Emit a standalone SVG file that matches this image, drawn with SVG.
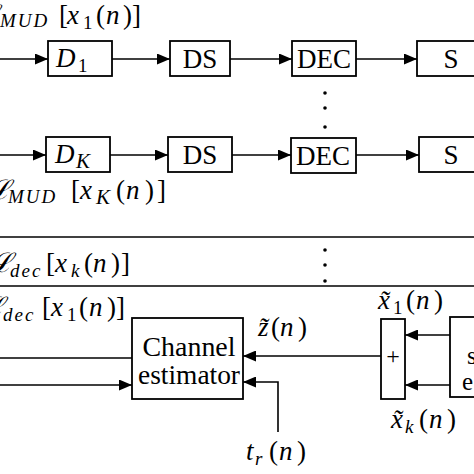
<svg xmlns="http://www.w3.org/2000/svg" width="474" height="474" viewBox="0 0 474 474">
<style>
.box{fill:#fff;stroke:#000;stroke-width:1.8}
.ln{fill:none;stroke:#000;stroke-width:1.6}
.arr{fill:none;stroke:#000;stroke-width:1.6;marker-end:url(#ah)}
.t{font-family:'Liberation Serif','Times New Roman',Tinos,'DejaVu Serif',serif;font-size:27px;fill:#000}
.m{font-family:'Liberation Serif','Times New Roman',Tinos,'DejaVu Serif',serif;font-size:27px;font-style:italic;fill:#000}
.r{font-style:normal}
.s{font-size:19px}
.sw{font-size:19px;letter-spacing:2px}
.sr{font-size:19px;font-style:normal}
</style>
<defs>
<marker id="ah" markerUnits="userSpaceOnUse" markerWidth="13" markerHeight="11" refX="13" refY="5.5" orient="auto">
<path d="M0,0 L13,5.5 L0,11 z" fill="#000"/>
</marker>
</defs>
<rect width="474" height="474" fill="#fff"/>
<g id="connectors">
<line class="arr" x1="0" y1="59" x2="48" y2="59"/>
<line class="arr" x1="112" y1="59" x2="170" y2="59"/>
<line class="arr" x1="230" y1="59" x2="292" y2="59"/>
<line class="arr" x1="356" y1="59" x2="417" y2="59"/>
<line class="arr" x1="0" y1="155" x2="46" y2="155"/>
<line class="arr" x1="110" y1="155" x2="168" y2="155"/>
<line class="arr" x1="232" y1="155" x2="291" y2="155"/>
<line class="arr" x1="356" y1="155" x2="419" y2="155"/>
<line class="ln" x1="0" y1="237" x2="474" y2="237"/>
<line class="ln" x1="0" y1="286" x2="474" y2="286"/>
<line class="ln" x1="0" y1="358" x2="132" y2="358"/>
<line class="arr" x1="0" y1="385" x2="132" y2="385"/>
<line class="arr" x1="381" y1="356" x2="243" y2="356"/>
<polyline class="arr" points="278,432 278,382 243,382"/>
<line class="arr" x1="450" y1="335" x2="405" y2="335"/>
<line class="arr" x1="450" y1="385" x2="405" y2="385"/>
</g>
<g id="dots">
<circle cx="325" cy="93" r="1.8"/><circle cx="325" cy="108" r="1.8"/><circle cx="325" cy="127" r="1.8"/>
<circle cx="325" cy="250" r="1.8"/><circle cx="325" cy="265" r="1.8"/><circle cx="325" cy="281" r="1.8"/>
</g>
<g id="D1"><rect class="box" x="48" y="41" width="64" height="35"/>
<text class="m" x="56" y="67">D<tspan class="sr" x="78" y="72">1</tspan></text></g>
<g id="DS1"><rect class="box" x="170" y="41" width="60" height="35"/><text class="t" x="200" y="68" text-anchor="middle">DS</text></g>
<g id="DEC1"><rect class="box" x="292" y="41" width="64" height="35"/><text class="t" x="324" y="68" text-anchor="middle" textLength="54" lengthAdjust="spacingAndGlyphs">DEC</text></g>
<g id="S1"><rect class="box" x="417" y="41" width="70" height="35"/><text class="t" x="451" y="68" text-anchor="middle">S</text></g>
<g id="DK"><rect class="box" x="46" y="137" width="64" height="35"/>
<text class="m" x="55" y="163">D<tspan class="s" style="font-size:21px" x="76" y="168">K</tspan></text></g>
<g id="DSK"><rect class="box" x="168" y="137" width="64" height="35"/><text class="t" x="200" y="164" text-anchor="middle">DS</text></g>
<g id="DECK"><rect class="box" x="291" y="138" width="65" height="35"/><text class="t" x="323" y="165" text-anchor="middle" textLength="54" lengthAdjust="spacingAndGlyphs">DEC</text></g>
<g id="SK"><rect class="box" x="419" y="137" width="70" height="35"/><text class="t" x="451" y="164" text-anchor="middle">S</text></g>
<g id="chest"><rect class="box" x="132" y="318" width="111" height="81"/>
<text class="t" x="189" y="356" text-anchor="middle" textLength="93" lengthAdjust="spacingAndGlyphs">Channel</text>
<text class="t" x="189" y="384" text-anchor="middle" textLength="102" lengthAdjust="spacingAndGlyphs">estimator</text></g>
<g id="plus"><rect class="box" x="381" y="319" width="24" height="80"/><text class="t" style="font-size:24px" x="393" y="364" text-anchor="middle">+</text></g>
<g id="symest"><rect class="box" x="450" y="317" width="40" height="80"/>
<text class="t" style="font-size:25px" x="467" y="364">s</text><text class="t" style="font-size:25px" x="462" y="390">e</text></g>
<g id="labels">
<text class="m" y="24"><tspan x="-24">ℒ</tspan><tspan class="sw" x="0" y="27">MUD</tspan><tspan class="r" x="59" y="24">[</tspan><tspan x="67">x</tspan><tspan class="sr" x="83" y="29">1</tspan><tspan class="r" x="96" y="24">(</tspan><tspan x="106">n</tspan><tspan class="r" x="123">)</tspan><tspan class="r" x="132">]</tspan></text>
<text class="m" y="199"><tspan x="-12">ℒ</tspan><tspan class="sw" x="8" y="203">MUD</tspan><tspan class="r" x="71" y="199">[</tspan><tspan x="80">x</tspan><tspan class="s" style="font-size:21px" x="96" y="204">K</tspan><tspan class="r" x="116" y="199">(</tspan><tspan x="126">n</tspan><tspan class="r" x="145">)</tspan><tspan class="r" x="157">]</tspan></text>
<text class="m" y="272"><tspan x="-10">ℒ</tspan><tspan class="sw" x="10" y="277">dec</tspan><tspan class="r" x="46" y="272">[</tspan><tspan x="55">x</tspan><tspan class="s" x="71" y="277">k</tspan><tspan class="r" x="84" y="272">(</tspan><tspan x="93">n</tspan><tspan class="r" x="111">)</tspan><tspan class="r" x="121">]</tspan></text>
<text class="m" y="316"><tspan x="-18">ℒ</tspan><tspan class="sw" x="3" y="321">dec</tspan><tspan class="r" x="42" y="316">[</tspan><tspan x="51">x</tspan><tspan class="sr" x="67" y="321">1</tspan><tspan class="r" x="79" y="316">(</tspan><tspan x="89">n</tspan><tspan class="r" x="107">)</tspan><tspan class="r" x="116">]</tspan></text>
<text class="m" y="336"><tspan x="258">z&#x303;</tspan><tspan class="r" x="271">(</tspan><tspan x="280">n</tspan><tspan class="r" x="298">)</tspan></text>
<text class="m" y="309"><tspan x="378">x&#x303;</tspan><tspan class="sr" x="393" y="314">1</tspan><tspan class="r" x="406" y="309">(</tspan><tspan x="416">n</tspan><tspan class="r" x="434">)</tspan></text>
<text class="m" y="428"><tspan x="391">x&#x303;</tspan><tspan class="s" x="405" y="433">k</tspan><tspan class="r" x="419" y="428">(</tspan><tspan x="429">n</tspan><tspan class="r" x="447">)</tspan></text>
<text class="m" y="460"><tspan x="246">t</tspan><tspan class="s" x="255" y="465">r</tspan><tspan class="r" x="269" y="460">(</tspan><tspan x="279">n</tspan><tspan class="r" x="297">)</tspan></text>
</g>
</svg>
